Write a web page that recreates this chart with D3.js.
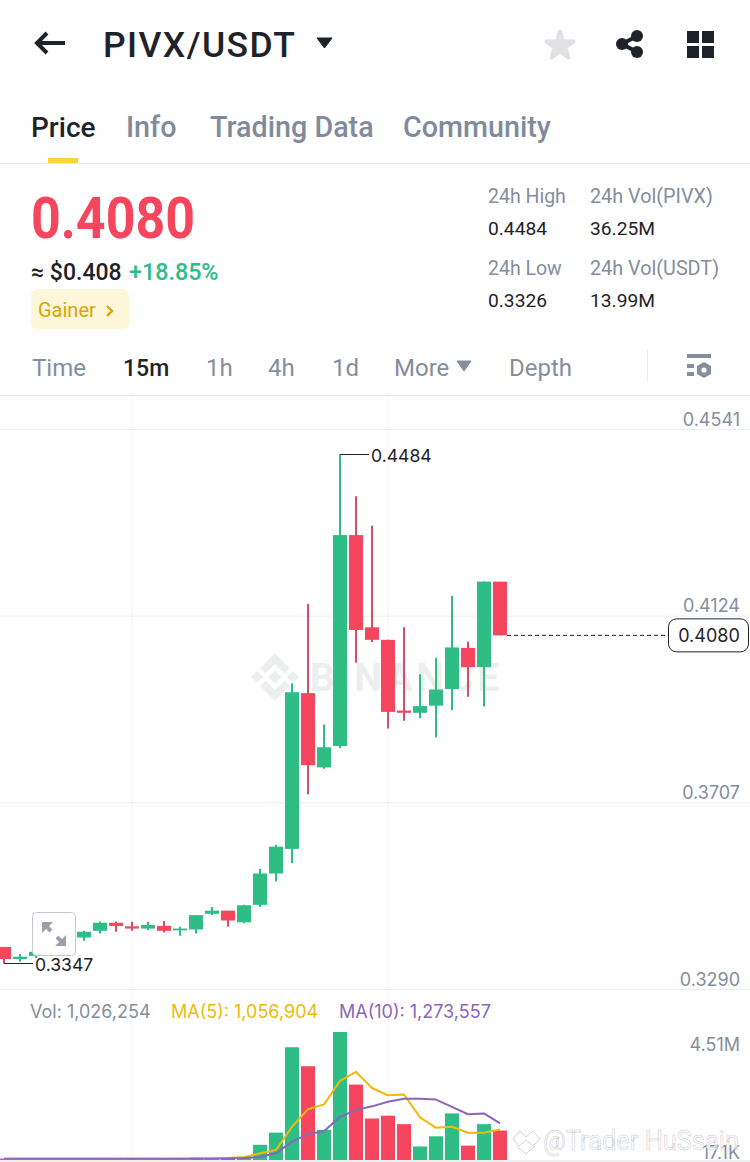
<!DOCTYPE html>
<html>
<head>
<meta charset="utf-8">
<script src="https://cdn.jsdelivr.net/npm/d3@7"></script>
<style>
  html, body { margin: 0; padding: 0; background: #fff; }
  svg { display: block; }
  text { font-family: "Roboto", sans-serif; }
  .axisText text { font-family: "Inter", sans-serif; }
</style>
</head>
<body>
<div class="chart"></div>
<script>
// PIVX/USDT 15m candles

var candleOpen = [0.3384, 0.3357, 0.3364, 0.3377, 0.3391, 0.3405, 0.3420, 0.3438, 0.3430, 0.3425, 0.3431, 0.3421, 0.3423, 0.3458, 0.3465, 0.3439,
    0.3478, 0.3548, 0.3603, 0.3951, 0.3785, 0.3833, 0.4304, 0.4098, 0.4070, 0.3912, 0.3907, 0.3923, 0.3960, 0.4052, 0.4009, 0.4200];
var candleClose = [0.3357, 0.3362, 0.3373, 0.3388, 0.3404, 0.3418, 0.3438, 0.3431, 0.3425, 0.3433, 0.3420, 0.3425, 0.3455, 0.3465, 0.3443, 0.3477,
    0.3548, 0.3608, 0.3953, 0.3790, 0.3830, 0.4304, 0.4092, 0.4070, 0.3909, 0.3907, 0.3922, 0.3959, 0.4053, 0.4009, 0.4200, 0.4080];
var candleHigh = [0.3384, 0.3368, 0.3377, 0.3393, 0.3408, 0.3420, 0.3441, 0.3441, 0.3440, 0.3440, 0.3442, 0.3429, 0.3455, 0.3473, 0.3465, 0.3478,
    0.3558, 0.3612, 0.3973, 0.4150, 0.3881, 0.4484, 0.4391, 0.4325, 0.4070, 0.4098, 0.3993, 0.4030, 0.4168, 0.4066, 0.4201, 0.4200];
var candleLow = [0.3347, 0.3351, 0.3359, 0.3373, 0.3386, 0.3398, 0.3414, 0.3418, 0.3420, 0.3422, 0.3416, 0.3409, 0.3414, 0.3455, 0.3429, 0.3437,
    0.3473, 0.3530, 0.3571, 0.3725, 0.3782, 0.3828, 0.4019, 0.4065, 0.3872, 0.3889, 0.3895, 0.3852, 0.3913, 0.3943, 0.3921, 0.4080];

// volume in millions
var volumes = [0.03, 0.02, 0.03, 0.03, 0.04, 0.04, 0.03, 0.02, 0.02, 0.02, 0.03, 0.03, 0.06, 0.04, 0.05, 0.10,
    0.52, 0.95, 3.97, 3.30, 1.05, 4.51, 2.65, 1.45, 1.55, 1.25, 0.46, 0.82, 1.63, 0.49, 1.25, 1.026];
var ma5 = [0.03, 0.03, 0.03, 0.03, 0.03, 0.03, 0.03, 0.03, 0.03, 0.03, 0.03, 0.03, 0.04, 0.04, 0.05, 0.08,
    0.218, 0.335, 1.157, 1.78, 1.95, 2.78, 3.10, 2.53, 2.27, 2.30, 1.49, 1.12, 1.16, 0.945, 0.945, 1.057];
var ma10 = [0.03, 0.03, 0.03, 0.03, 0.03, 0.03, 0.03, 0.03, 0.03, 0.03, 0.03, 0.03, 0.03, 0.03, 0.04, 0.05,
    0.09, 0.218, 0.63, 0.90, 1.00, 1.51, 1.75, 1.88, 2.04, 2.15, 2.15, 2.12, 1.86, 1.60, 1.63, 1.274];

var priceTicks = [0.4541, 0.4124, 0.3707, 0.3290];
var volTicks = [4.51, 0.0171];
var volTickLabels = ["4.51M", "17.1K"];
var lastPrice = 0.4080;
var highPrice = 0.4484;
var lowPrice = 0.3347;

var tabs = ["Price", "Info", "Trading Data", "Community"];
var intervals = ["Time", "15m", "1h", "4h", "1d", "More", "Depth"];

var svgWidth = 750;
var svgHeight = 1162;
var up = "#2ebd85";
var down = "#f6465d";
var dark = "#1e2329";
var grey = "#848e9c";

var svg = d3.select(".chart").append("svg")
    .attr("width", svgWidth)
    .attr("height", svgHeight);

function label(x, y, str, size, color, weight, anchor) {
    return svg.append("text")
        .attr("x", x)
        .attr("y", y)
        .attr("font-size", size)
        .attr("fill", color)
        .attr("font-weight", weight || 400)
        .attr("text-anchor", anchor || "start")
        .text(str);
}

// Header
svg.append("path").attr("d", "M37 43H65M47 33L37 43L47 53").attr("fill", "none")
    .attr("stroke", dark).attr("stroke-width", 4);
label(103, 57, "PIVX/USDT", 35.5, dark, 500).attr("letter-spacing", 1.4);
svg.append("path").attr("d", "M317 38H332L324.5 48Z").attr("fill", dark).attr("stroke", dark).attr("stroke-linejoin", "round");
svg.append("path")
    .attr("d", d3.symbol(d3.symbolStar, 230))
    .attr("transform", "translate(560,46)")
    .attr("fill", "#dfe1e5").attr("stroke", "#dfe1e5").attr("stroke-width", 4).attr("stroke-linejoin", "round");
svg.append("path").attr("d", "M637 36L622 44L637 52").attr("fill", "none").attr("stroke", dark).attr("stroke-width", 4);
[[637, 36], [622, 44], [637, 52]].forEach(function(p) {
    svg.append("circle").attr("cx", p[0]).attr("cy", p[1]).attr("r", 6).attr("fill", dark);
});
[[687, 31], [702, 31], [687, 46], [702, 46]].forEach(function(p) {
    svg.append("rect").attr("x", p[0]).attr("y", p[1]).attr("width", 12).attr("height", 12).attr("fill", dark);
});

// Tabs
var tabX = [31, 126, 210, 403];
tabs.forEach(function(t, i) {
    label(tabX[i], 137, t, i == 0 ? 28 : 28.7, i == 0 ? dark : "#7f8b9c", 500);
});
svg.append("rect").attr("x", 48).attr("y", 158).attr("width", 30).attr("height", 5).attr("fill", "#fcd535");
svg.append("line").attr("x1", 0).attr("x2", 750).attr("y1", 163.5).attr("y2", 163.5).attr("stroke", "#e6e8ea");

// Price block, the app font is narrower than Roboto so squeeze it
label(31, 238, "0.4080", 58, down, 700)
    .attr("textLength", 164).attr("lengthAdjust", "spacingAndGlyphs");
label(31, 280, "≈ $0.408", 23, dark, 500);
label(129, 280, "+18.85%", 23.3, up, 500);
svg.append("rect").attr("x", 31).attr("y", 289).attr("width", 98).attr("height", 40).attr("rx", 6).attr("fill", "#fef6d8");
label(38, 317, "Gainer", 20, "#d9a507");
svg.append("path").attr("d", "M107 306L112 311L107 316").attr("fill", "none").attr("stroke", "#d9a507").attr("stroke-width", 2.4);

label(488, 203, "24h High", 19.5, grey);
label(590, 203, "24h Vol(PIVX)", 19.8, grey);
label(488, 235, "0.4484", 19.2, dark);
label(590, 235, "36.25M", 19.2, dark);
label(488, 275, "24h Low", 19.5, grey);
label(590, 275, "24h Vol(USDT)", 19.8, grey);
label(488, 307, "0.3326", 19.2, dark);
label(590, 307, "13.99M", 19.2, dark);

// Interval bar
var intervalX = [32, 123, 206, 268, 332, 394, 509];
intervals.forEach(function(t, i) {
    label(intervalX[i], 376, t, i == 1 ? 23 : 24, i == 1 ? dark : grey, i == 1 ? 500 : 400);
});
svg.append("path").attr("d", "M457 361H471L464 371Z").attr("fill", grey).attr("stroke", grey).attr("stroke-linejoin", "round");
svg.append("line").attr("x1", 647.5).attr("x2", 647.5).attr("y1", 350).attr("y2", 382).attr("stroke", "#eaecef");
svg.append("rect").attr("x", 687).attr("y", 354).attr("width", 24).attr("height", 4).attr("fill", grey);
svg.append("rect").attr("x", 687).attr("y", 364).attr("width", 7).attr("height", 4).attr("fill", grey);
svg.append("rect").attr("x", 687).attr("y", 372).attr("width", 7).attr("height", 4).attr("fill", grey);
svg.append("path").attr("d", "M704 362L711 366V374L704 378L697 374V366Z").attr("fill", grey);
svg.append("circle").attr("cx", 704).attr("cy", 370).attr("r", 2.6).attr("fill", "#fff");
svg.append("line").attr("x1", 0).attr("x2", 750).attr("y1", 395.5).attr("y2", 395.5).attr("stroke", "#e6e8ea");

// Scales
var x = d3.scaleLinear().domain([0, 31]).range([4, 500]);
var y = d3.scaleLinear().domain([0.3290, 0.4541]).range([989, 429]);
var yVol = d3.scaleLinear().domain([0.0171, 4.51]).range([1159, 1032]);

// Vertical grid
[8, 24].forEach(function(i) {
    svg.append("line").attr("x1", x(i)).attr("x2", x(i)).attr("y1", 396).attr("y2", 1160)
        .attr("stroke", "#f3f4f5");
});

// Exchange watermark behind the candles
var mark = svg.append("g").attr("fill", "#eceef0");
function logo(g, cx, cy) {
    var t = "translate(" + cx + "," + cy + ")";
    g.append("path").attr("transform", t).attr("d", "M0 -24L15 -9L9.5 -3.5L0 -13L-9.5 -3.5L-15 -9Z");
    g.append("path").attr("transform", t).attr("d", "M0 24L15 9L9.5 3.5L0 13L-9.5 3.5L-15 9Z");
    g.append("path").attr("transform", t).attr("d", "M0 -6.5L6.5 0L0 6.5L-6.5 0Z");
    g.append("path").attr("transform", t).attr("d", "M-18 -6L-12 0L-18 6L-24 0Z");
    g.append("path").attr("transform", t).attr("d", "M18 -6L24 0L18 6L12 0Z");
}
logo(mark, 275, 677);
mark.append("text").attr("x", 310).attr("y", 691).attr("font-size", 39).attr("font-weight", 700)
    .attr("letter-spacing", 4).text("BINANCE");

// Price axis with gridlines
var priceAxis = d3.axisRight(y).tickValues(priceTicks)
    .tickSize(-750).tickPadding(-10).tickFormat(d3.format(".4f"));
var priceG = svg.append("g").attr("class", "axisText")
    .attr("transform", "translate(750,0)")
    .call(priceAxis);
priceG.select(".domain").remove();
priceG.selectAll("line").attr("stroke", "#eceef0");
priceG.selectAll("text").attr("text-anchor", "end").attr("dy", -4)
    .attr("font-size", 18).attr("fill", grey);

// Candles
var idx = d3.range(candleOpen.length);
function color(i) { return candleClose[i] < candleOpen[i] ? down : up; }

svg.selectAll(".wick").data(idx).enter().append("line")
    .attr("class", "wick")
    .attr("x1", d => x(d)).attr("x2", d => x(d))
    .attr("y1", d => y(candleHigh[d])).attr("y2", d => y(candleLow[d]))
    .attr("stroke", d => candleClose[d] < candleOpen[d] ? "#d74c69" : up)
    .attr("stroke-width", 2);

svg.selectAll(".body").data(idx).enter().append("rect")
    .attr("class", "body")
    .attr("x", d => x(d) - 7)
    .attr("width", 14)
    .attr("y", d => y(Math.max(candleOpen[d], candleClose[d])))
    .attr("height", d => Math.max(1.5, Math.abs(y(candleOpen[d]) - y(candleClose[d]))))
    .attr("fill", d => color(d));

// High, low and last price callouts
var hiIdx = candleHigh.indexOf(highPrice);
svg.append("line").attr("x1", x(hiIdx)).attr("x2", x(hiIdx) + 29)
    .attr("y1", y(highPrice)).attr("y2", y(highPrice)).attr("stroke", dark);
var hiText = label(x(hiIdx) + 31, y(highPrice) + 7, d3.format(".4f")(highPrice), 17.6, dark);
hiText.style("font-family", "Inter");
var loIdx = candleLow.indexOf(lowPrice);
svg.append("line").attr("x1", x(loIdx)).attr("x2", x(loIdx) + 29)
    .attr("y1", y(lowPrice)).attr("y2", y(lowPrice)).attr("stroke", dark);
var loText = label(x(loIdx) + 31, y(lowPrice) + 8, d3.format(".4f")(lowPrice), 17.6, dark);
loText.style("font-family", "Inter");

svg.append("line").attr("x1", x(31) + 7).attr("x2", 665)
    .attr("y1", y(lastPrice)).attr("y2", y(lastPrice))
    .attr("stroke", dark).attr("stroke-dasharray", "4 3");
svg.append("rect").attr("x", 668.5).attr("y", y(lastPrice) - 16.5).attr("width", 80).attr("height", 33).attr("rx", 8)
    .attr("fill", "#fff").attr("stroke", dark);
var lastText = label(709, y(lastPrice) + 7, d3.format(".4f")(lastPrice), 18, dark, 400, "middle");
lastText.style("font-family", "Inter");

// Expand button
svg.append("rect").attr("x", 32.5).attr("y", 912.5).attr("width", 43).attr("height", 43).attr("rx", 4)
    .attr("fill", "#fff").attr("stroke", "#c4c7cc");
svg.append("path").attr("d", "M42 922H53L42 933ZM66 946H55L66 935Z").attr("fill", "#9aa1ad");
svg.append("path").attr("d", "M45 925L51 931M57 937L63 943").attr("stroke", "#9aa1ad").attr("stroke-width", 4);

// Volume legend
var legendText = [[30, "Vol: 1,026,254", grey], [171, "MA(5): 1,056,904", "#f0b90b"], [339, "MA(10): 1,273,557", "#8b66b8"]];
legendText.forEach(function(l) {
    label(l[0], 1018, l[1], 18, l[2]).style("font-family", "Inter");
});

// Volume bars
svg.selectAll(".vol").data(idx).enter().append("rect")
    .attr("class", "vol")
    .attr("x", d => x(d) - 7)
    .attr("width", 14)
    .attr("y", d => yVol(volumes[d]))
    .attr("height", d => 1160 - yVol(volumes[d]))
    .attr("fill", d => color(d));

var maLine = d3.line().x((d, i) => x(i)).y(d => yVol(d));
svg.append("path").datum(ma5).attr("d", maLine).attr("fill", "none").attr("stroke", "#f0b90b")
    .attr("stroke-width", 2).attr("stroke-linejoin", "round");
svg.append("path").datum(ma10).attr("d", maLine).attr("fill", "none").attr("stroke", "#8b66b8")
    .attr("stroke-width", 2).attr("stroke-linejoin", "round");

var volAxis = d3.axisRight(yVol).tickValues(volTicks).tickSize(0).tickPadding(-10)
    .tickFormat((d, i) => volTickLabels[i]);
var volG = svg.append("g").attr("class", "axisText")
    .attr("transform", "translate(750,0)")
    .call(volAxis);
volG.select(".domain").remove();
volG.selectAll("text").attr("text-anchor", "end").attr("font-size", 18).attr("fill", grey)
    .attr("dy", (d, i) => i == 0 ? 18 : -1);

svg.append("rect").attr("x", 0).attr("y", 1160).attr("width", 750).attr("height", 2).attr("fill", "#eceef0");

// Author watermark on top
svg.append("path")
    .attr("d", "M513 1139L520 1131L526 1137L533 1131L540 1139L533 1146L526 1140L519 1146ZM517 1146L526 1154L535 1146")
    .attr("fill", "none").attr("stroke", "#d3d5d8");
svg.append("text").attr("x", 543).attr("y", 1150).attr("font-size", 27)
    .attr("textLength", 196).attr("lengthAdjust", "spacingAndGlyphs")
    .attr("fill", "#fff").attr("fill-opacity", 0.6).attr("stroke", "#cdd0d3").attr("stroke-width", 0.6)
    .text("@Trader HuSsain");
</script>
</body>
</html>
